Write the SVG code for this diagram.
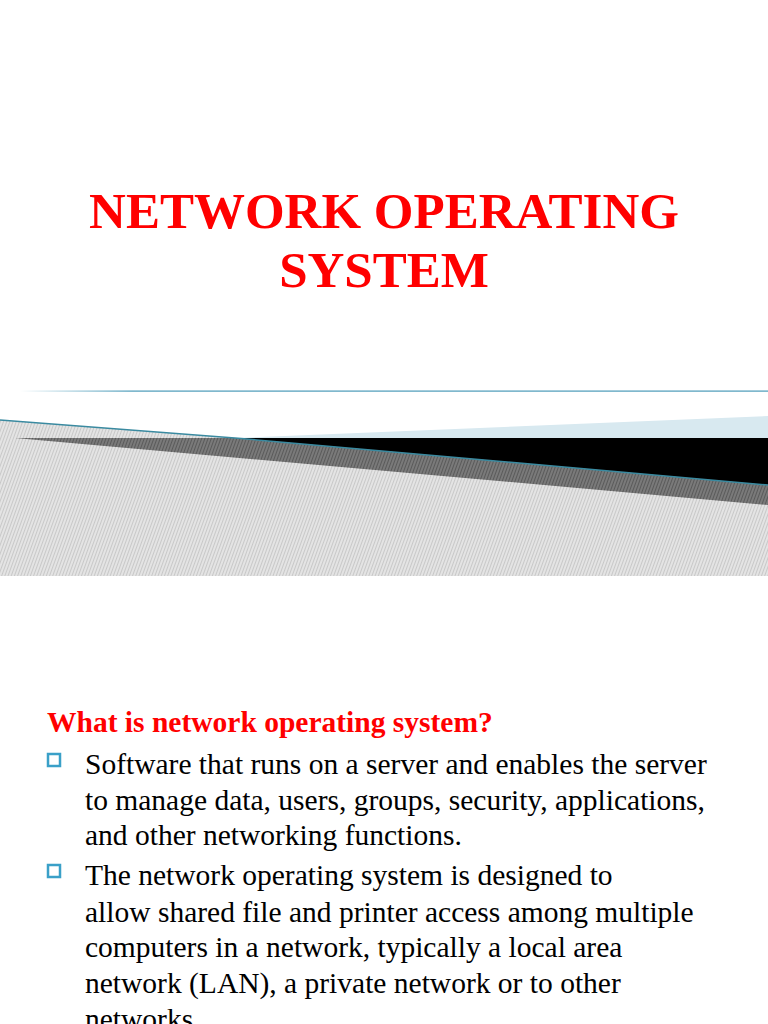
<svg xmlns="http://www.w3.org/2000/svg" width="768" height="1024" viewBox="0 0 768 1024">
<defs>
<pattern id="hatch" width="3" height="3" patternUnits="userSpaceOnUse" patternTransform="rotate(20)">
<rect width="3" height="3" fill="#e4e4e4"/><rect width="1" height="3" fill="#c8c8c8"/>
</pattern>
<pattern id="hatchD" width="3" height="3" patternUnits="userSpaceOnUse" patternTransform="rotate(20)">
<rect width="3" height="3" fill="#7a7a7a"/><rect width="1" height="3" fill="#5a5a5a"/>
</pattern>
<linearGradient id="ln" x1="0" x2="1"><stop offset="0" stop-color="#4a9ab8" stop-opacity="0"/><stop offset="0.15" stop-color="#4a9ab8"/><stop offset="1" stop-color="#4a9ab8"/></linearGradient>
</defs>
<style>
.t{font-family:"Liberation Serif",serif;fill:#ff0000;font-weight:bold}
.b{font-family:"Liberation Serif",serif;font-size:29.5px;fill:#000}
.sq{fill:#fff;stroke:#3aa0c8;stroke-width:2.5}
</style>
<rect width="768" height="1024" fill="#fff"/>
<g id="title">
<text class="t" x="384" y="228" font-size="51" text-anchor="middle">NETWORK OPERATING</text>
<text class="t" x="384" y="287" font-size="51" text-anchor="middle">SYSTEM</text>
</g>
<g id="band">
<rect x="20" y="390.5" width="748" height="1.2" fill="url(#ln)"/>
<polygon points="0,420 235,438 768,485 768,576 0,576" fill="url(#hatch)"/>
<polygon points="15,438 235,438 768,485 768,505" fill="url(#hatchD)"/>
<polygon points="235,438 768,438 768,485" fill="#000"/>
<polygon points="235,438 768,416 768,438" fill="#d8e9f0"/>
<polyline points="0,420 235,438 768,485" fill="none" stroke="#3a8aa0" stroke-width="1.5"/>
</g>
<g id="body">
<text class="t" x="47" y="732" font-size="29.5">What is network operating system?</text>
<rect class="sq" x="48" y="754" width="12" height="12"/>
<text class="b" x="85" y="774">Software that runs on a server and enables the server</text>
<text class="b" x="85" y="810">to manage data, users, groups, security, applications,</text>
<text class="b" x="85" y="845">and other networking functions.</text>
<rect class="sq" x="48" y="865" width="12" height="12"/>
<text class="b" x="85" y="885">The network operating system is designed to</text>
<text class="b" x="85" y="922">allow shared file and printer access among multiple</text>
<text class="b" x="85" y="957">computers in a network, typically a local area</text>
<text class="b" x="85" y="993">network (LAN), a private network or to other</text>
<text class="b" x="85" y="1029">networks.</text>
</g>
</svg>
